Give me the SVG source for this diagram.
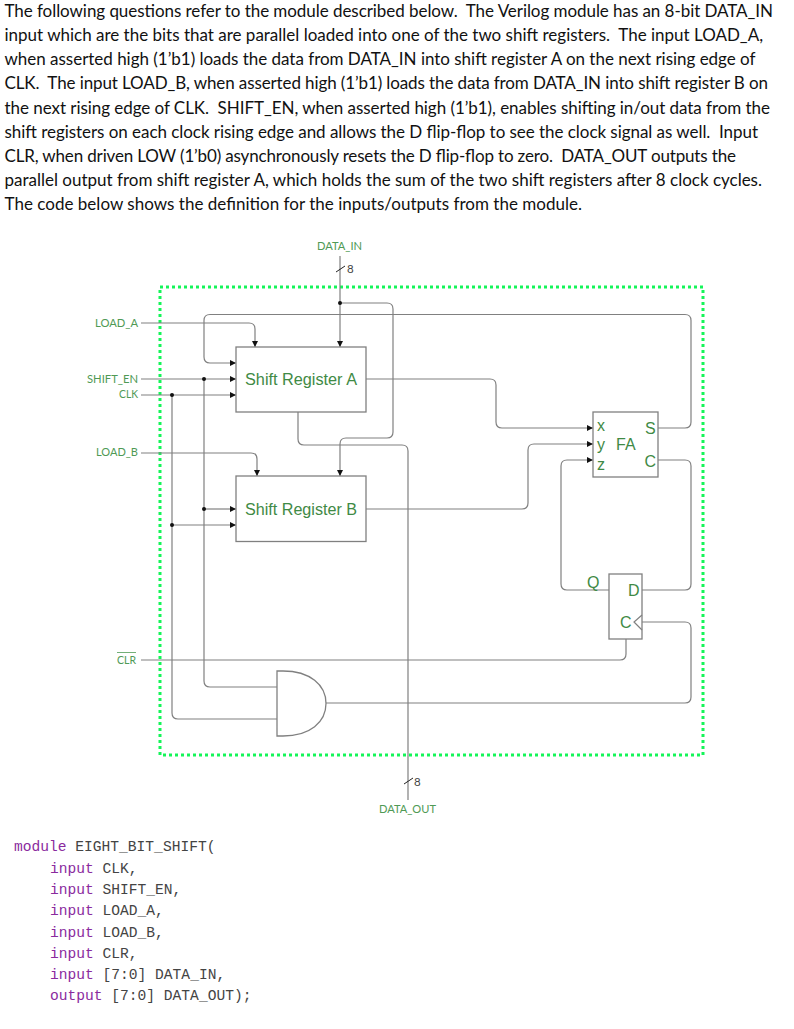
<svg xmlns="http://www.w3.org/2000/svg" width="794" height="1029" viewBox="0 0 794 1029">
<style>
.p{font-family:"Lato","Open Sans","Liberation Sans",sans-serif;font-size:17px;fill:#111;white-space:pre}
.l{font-family:"Lato","Open Sans","Liberation Sans",sans-serif;font-size:12px;fill:#4f9a55}
.n{font-family:"Lato","Open Sans","Liberation Sans",sans-serif;font-size:11.5px;fill:#444}
.b{font-family:"Liberation Sans",Arial,sans-serif;font-size:16px;fill:#3f8a45}
.c{font-family:"Liberation Mono","Courier New",monospace;font-size:14.6px;fill:#444}
.k{fill:#8a2a9e}
.w{fill:none;stroke:#808080;stroke-width:1.2}
.a{marker-end:url(#ah)}
.s{fill:#fff;stroke:#808080;stroke-width:1.3}
.d{fill:#111}
</style>
<defs><marker id="ah" markerUnits="userSpaceOnUse" markerWidth="6" markerHeight="6" refX="6" refY="3" orient="auto"><path d="M0 0L6 3L0 6z" fill="#111"/></marker></defs>
<rect width="794" height="1029" fill="#fff"/>
<g id="question">
<text class="p" x="4.5" y="17" textLength="768.5" lengthAdjust="spacing">The following questions refer to the module described below.  The Verilog module has an 8-bit DATA_IN</text>
<text class="p" x="4.5" y="41" textLength="758.5" lengthAdjust="spacing">input which are the bits that are parallel loaded into one of the two shift registers.  The input LOAD_A,</text>
<text class="p" x="4.5" y="65" textLength="751" lengthAdjust="spacing">when asserted high (1’b1) loads the data from DATA_IN into shift register A on the next rising edge of</text>
<text class="p" x="4.5" y="89" textLength="763.5" lengthAdjust="spacing">CLK.  The input LOAD_B, when asserted high (1’b1) loads the data from DATA_IN into shift register B on</text>
<text class="p" x="4.5" y="113.500" textLength="765.500" lengthAdjust="spacing">the next rising edge of CLK.  SHIFT_EN, when asserted high (1’b1), enables shifting in/out data from the</text>
<text class="p" x="4.5" y="138" textLength="753.500" lengthAdjust="spacing">shift registers on each clock rising edge and allows the D flip-flop to see the clock signal as well.  Input</text>
<text class="p" x="4.5" y="162" textLength="731.500" lengthAdjust="spacing">CLR, when driven LOW (1’b0) asynchronously resets the D flip-flop to zero.  DATA_OUT outputs the</text>
<text class="p" x="4.5" y="186" textLength="757.500" lengthAdjust="spacing">parallel output from shift register A, which holds the sum of the two shift registers after 8 clock cycles.</text>
<text class="p" x="4.5" y="210" textLength="577.500" lengthAdjust="spacing">The code below shows the definition for the inputs/outputs from the module.</text>
</g>
<path id="boundary" d="M160 287H703V755H160Z" fill="none" stroke="#14f558" stroke-width="3" stroke-dasharray="3 3"/>
<g id="connectors">
<path class="w a" d="M340 256V347"/>
<path class="w a" d="M340 303H387Q393 303 393 309V432Q393 438 387 438H346Q340 438 340 444V476"/>
<path class="w a" d="M141 323H249Q255 323 255 329V347"/>
<path class="w a" d="M658 428H685Q691 428 691 422V320.500Q691 314.500 685 314.500H210Q204 314.500 204 320.500V357Q204 363 210 363H236"/>
<path class="w a" d="M141 379H236"/>
<path class="w a" d="M141 395H236"/>
<path class="w a" d="M141 453H251Q257 453 257 459V476"/>
<path class="w a" d="M204 509H236"/>
<path class="w a" d="M172 525H236"/>
<path class="w" d="M204 379V681Q204 687 210 687H277"/>
<path class="w" d="M172 395V713Q172 719 178 719H277"/>
<path class="w a" d="M366 379H490Q496 379 496 385V422Q496 428 502 428H593"/>
<path class="w a" d="M366 509H522Q528 509 528 503V450Q528 444 534 444H593"/>
<path class="w" d="M298 412V439Q298 445 304 445H402Q408 445 408 451V800"/>
<path class="w a" d="M609 590H567Q561 590 561 584V466Q561 460 567 460H593"/>
<path class="w" d="M642 590H685Q691 590 691 584V466Q691 460 685 460H658"/>
<path class="w" d="M642 622H685Q691 622 691 628V697Q691 703 685 703H326"/>
<path class="w" d="M141 660H620Q626 660 626 654V639"/>
<circle class="d" cx="340" cy="303" r="2"/>
<circle class="d" cx="204" cy="379" r="2"/>
<circle class="d" cx="172" cy="395" r="2"/>
<circle class="d" cx="204" cy="509" r="2"/>
<circle class="d" cx="172" cy="525" r="2"/>
<path d="M336 272L345 266M404 784L413 778" fill="none" stroke="#222" stroke-width="1"/>
</g>
<g id="shift-register-a"><rect class="s" x="236" y="347" width="130" height="65"/><text class="b" x="245" y="385" textLength="112" lengthAdjust="spacingAndGlyphs">Shift Register A</text></g>
<g id="shift-register-b"><rect class="s" x="236" y="476" width="130" height="65.500"/><text class="b" x="245" y="515" textLength="112" lengthAdjust="spacingAndGlyphs">Shift Register B</text></g>
<g id="full-adder"><rect class="s" x="593" y="412" width="65" height="65"/>
<text class="b" x="597" y="431">x</text><text class="b" x="597" y="450">y</text><text class="b" x="597" y="470">z</text>
<text class="b" x="616" y="450">FA</text><text class="b" x="645" y="434">S</text><text class="b" x="644.500" y="467">C</text></g>
<g id="d-flip-flop"><rect class="s" x="609" y="574" width="33" height="65"/>
<path d="M642 615L634 622L642 630" fill="none" stroke="#808080" stroke-width="1.200"/>
<text class="b" x="587" y="588">Q</text><text class="b" x="628" y="596">D</text><text class="b" x="620" y="628">C</text></g>
<g id="and-gate"><path class="s" d="M277 671H283C310 671 326 685 326 703.500C326 722 310 736 283 736H277Z"/></g>
<g id="labels">
<text class="l" x="317" y="250" textLength="45" lengthAdjust="spacingAndGlyphs">DATA_IN</text>
<text class="n" x="347" y="273">8</text>
<text class="l" x="95" y="327" textLength="43" lengthAdjust="spacingAndGlyphs">LOAD_A</text>
<text class="l" x="87" y="383" textLength="51" lengthAdjust="spacingAndGlyphs">SHIFT_EN</text>
<text class="l" x="119" y="398" textLength="19" lengthAdjust="spacingAndGlyphs">CLK</text>
<text class="l" x="96" y="456" textLength="42" lengthAdjust="spacingAndGlyphs">LOAD_B</text>
<text class="l" x="117" y="663.500" textLength="19" lengthAdjust="spacingAndGlyphs">CLR</text>
<path d="M117 652.500H136" stroke="#4f9a55" stroke-width="0.800"/>
<text class="n" x="414" y="786">8</text>
<text class="l" x="379" y="813" textLength="57" lengthAdjust="spacingAndGlyphs">DATA_OUT</text>
</g>
<g id="code">
<text class="c" x="14" y="851"><tspan class="k">module</tspan> EIGHT_BIT_SHIFT(</text>
<text class="c" x="50" y="872.500"><tspan class="k">input</tspan> CLK,</text>
<text class="c" x="50" y="894"><tspan class="k">input</tspan> SHIFT_EN,</text>
<text class="c" x="50" y="915"><tspan class="k">input</tspan> LOAD_A,</text>
<text class="c" x="50" y="936.500"><tspan class="k">input</tspan> LOAD_B,</text>
<text class="c" x="50" y="958"><tspan class="k">input</tspan> CLR,</text>
<text class="c" x="50" y="979"><tspan class="k">input</tspan> [7:0] DATA_IN,</text>
<text class="c" x="50" y="1000"><tspan class="k">output</tspan> [7:0] DATA_OUT);</text>
</g>
</svg>
